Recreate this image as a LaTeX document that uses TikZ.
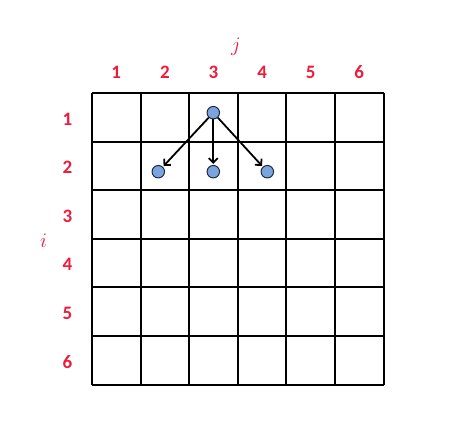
\documentclass[tikz,border=0pt]{standalone}
\usepackage{fontspec}
\setmainfont{Carlito}
\usetikzlibrary{arrows.meta}

\begin{document}
\begin{tikzpicture}[x=1pt,y=-1pt]
    % Define colors
    \definecolor{indexred}{RGB}{236,28,58}
    \definecolor{dotblue}{RGB}{122,164,222}
    \definecolor{dotedge}{RGB}{30,40,60}
    \tikzset{
        numlabel/.style={text=indexred, font=\bfseries\fontsize{19}{21}\selectfont},
        dot/.style={circle, draw=dotedge, line width=1pt, fill=dotblue, minimum size=12.5pt, inner sep=0pt},
        move/.style={-{Straight Barb[length=4.5pt,width=9pt]}, line width=1.8pt, shorten >=1pt}
    }
    \useasboundingbox (0,0) rectangle (450,438);

    % Grid 6 x 6
    \foreach \k in {0,...,6} {
        \draw[line width=2pt] (92+\k*48.6,93) -- (92+\k*48.6,384.6);
        \draw[line width=2pt] (92,93+\k*48.6) -- (383.6,93+\k*48.6);
    }

    % Column and row numbers
    \foreach \n in {1,...,6} {
        \node[numlabel] (col\n) at (116.3+\n*48.6-48.6,72) {\n};
        \node[numlabel] (row\n) at (67.5,119+\n*48.6-48.6) {\n};
    }
    \node[text=indexred, font=\fontsize{20}{22}\selectfont] (jlabel) at (236,47) {$j$};
    \node[text=indexred, font=\fontsize{20}{22}\selectfont] (ilabel) at (43.5,241) {$i$};

    % Source cell (1,3) and its three successors in row 2
    \node[dot] (src) at (213.3,112.7) {};
    \node[dot] (left) at (158.3,171.7) {};
    \node[dot] (down) at (213.3,171.7) {};
    \node[dot] (right) at (267.3,171.7) {};
    \draw[move] (src) -- (left);
    \draw[move] (src) -- (down);
    \draw[move] (src) -- (right);
\end{tikzpicture}
\end{document}
